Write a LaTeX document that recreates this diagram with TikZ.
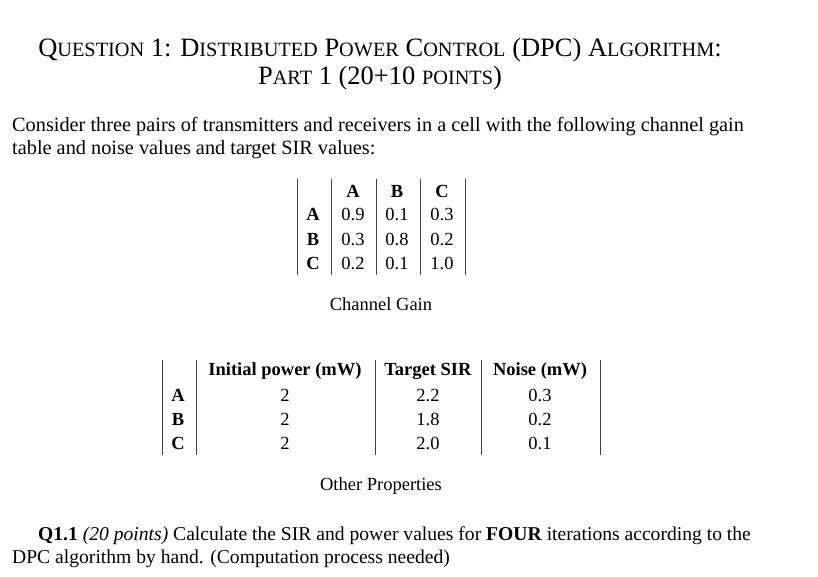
\documentclass[tikz,border=0pt]{standalone}
\usepackage{fontspec}
\setmainfont{Liberation Serif}
\newcommand\smc[1]{{\fontsize{20.3}{23}\selectfont\MakeUppercase{#1}}}
\begin{document}
\begin{tikzpicture}[x=1pt,y=-1pt,
 body/.style={anchor=base west,inner sep=0pt,font=\fontsize{20.3}{24}\selectfont},
 tt/.style={inner sep=0pt,font=\fontsize{18.5}{22}\selectfont},
 ttl/.style={inner sep=0pt,font=\fontsize{26.5}{30}\selectfont},
 tl/.style={line width=0.7pt,black!75}]
\useasboundingbox (0,0) rectangle (818,576);
\node[ttl] (t1) at (380,50) {Q\smc{uestion} 1: D\smc{istributed} P\smc{ower} C\smc{ontrol} (DPC) A\smc{lgorithm}:};
\node[ttl] (t2) at (380,78) {P\smc{art} 1 (20+10 \smc{points})};
\node[body] (p1) at (12,131) {Consider three pairs of transmitters and receivers in a cell with the following channel gain};
\node[body] (p2) at (12,154) {table and noise values and target SIR values:};
% table 1
\foreach \x in {297,331,376,420,465} \draw[tl] (\x,179) -- (\x,275);
\foreach \c/\x in {A/353,B/397,C/442} \node[tt] (h\c) at (\x,191) {\textbf{\c}};
\node[tt] (rA) at (313,214) {\textbf{A}};
\node[tt] (rB) at (313,239) {\textbf{B}};
\node[tt] (rC) at (313,263) {\textbf{C}};
\node[tt] (a1) at (353,214) {0.9}; \node[tt] (a2) at (397,214) {0.1}; \node[tt] (a3) at (442,214) {0.3};
\node[tt] (b1) at (353,239) {0.3}; \node[tt] (b2) at (397,239) {0.8}; \node[tt] (b3) at (442,239) {0.2};
\node[tt] (c1) at (353,263) {0.2}; \node[tt] (c2) at (397,263) {0.1}; \node[tt] (c3) at (442,263) {1.0};
\node[tt] (cap1) at (381,304) {Channel Gain};
% table 2
\foreach \x in {162,196,375,481,600} \draw[tl] (\x,360) -- (\x,455);
\node[tt] (h1) at (285,371) {\textbf{Initial power (mW)}};
\node[tt] (h2) at (428,371) {\textbf{Target SIR}};
\node[tt] (h3) at (540,371) {\textbf{Noise (mW)}};
\node[tt] (sA) at (178,395) {\textbf{A}};
\node[tt] (sB) at (178,419) {\textbf{B}};
\node[tt] (sC) at (178,443) {\textbf{C}};
\node[tt] (pA) at (285,395) {2}; \node[tt] (gA) at (428,395) {2.2}; \node[tt] (nA) at (540,395) {0.3};
\node[tt] (pB) at (285,419) {2}; \node[tt] (gB) at (428,419) {1.8}; \node[tt] (nB) at (540,419) {0.2};
\node[tt] (pC) at (285,443) {2}; \node[tt] (gC) at (428,443) {2.0}; \node[tt] (nC) at (540,443) {0.1};
\node[tt] (cap2) at (381,486) {Other Properties};
\node[body,font=\fontsize{19.6}{23}\selectfont] (q1) at (38,540) {\textbf{Q1.1} \textit{(20 points)} Calculate the SIR and power values for \textbf{FOUR} iterations according to the};
\node[body,font=\fontsize{19.6}{23}\selectfont] (q2) at (12,563) {DPC algorithm by hand. (Computation process needed)};
\end{tikzpicture}
\end{document}
